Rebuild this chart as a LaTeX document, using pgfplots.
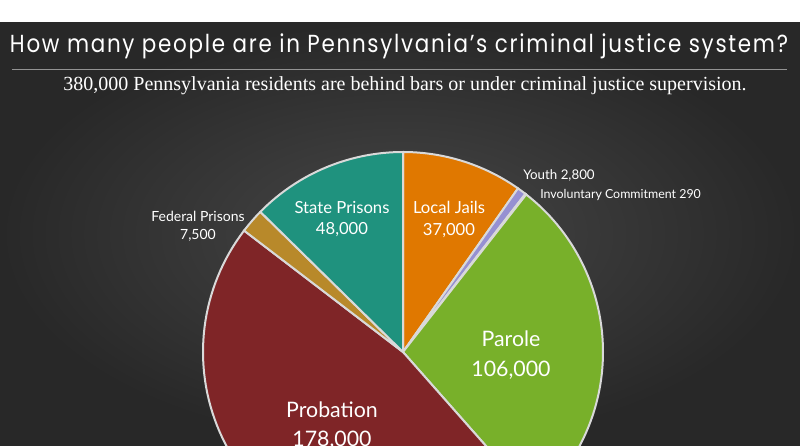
\documentclass[border=0pt]{standalone}
\usepackage{pgfplots}
\pgfplotsset{compat=1.18}
\usepackage{fontspec}
\setmainfont{Liberation Serif}
\newfontfamily\titlefont[LetterSpace=8]{Poppins}
\newfontfamily\labelfont{Lato}
\definecolor{bgin}{HTML}{474747}
\definecolor{bgout}{HTML}{282828}
\definecolor{pieedge}{HTML}{D9D9D9}
\definecolor{cLJ}{HTML}{E07800}
\definecolor{cYO}{HTML}{9690D2}
\definecolor{cIC}{HTML}{E8E8E8}
\definecolor{cPA}{HTML}{78B02A}
\definecolor{cPR}{HTML}{7F2527}
\definecolor{cFE}{HTML}{B8892A}
\definecolor{cST}{HTML}{1F927E}
% values in thousands
\def\vLJ{37}
\def\vYO{2.8}
\def\vIC{0.29}
\def\vPA{106}
\def\vPR{178}
\def\vFE{7.5}
\def\vST{48}
\newcommand\slice[3]{%
  \addplot[fill=#3, draw=pieedge, line width=1.5pt, domain=#2:#1, samples=90, variable=\t]
    ({cos(\t)},{sin(\t)}) -- (axis cs:0,0) -- cycle;
}
\begin{document}
\begin{tikzpicture}[x=0.75pt,y=-0.75pt]
\path[use as bounding box] (0,0) rectangle (800,446);
\clip (0,0) rectangle (800,446);
\shade[inner color=bgin, outer color=bgout] (0,22) rectangle (800,446);
\fill[white] (0,0) rectangle (800,22);
\draw[color=gray!85, line width=0.75pt] (12,69) -- (787,69);
\node[anchor=base, text=white, inner sep=0pt] at (399,53)
  {\resizebox{583.5pt}{\height}{\titlefont\fontsize{18.5pt}{20pt}\selectfont How many people are in Pennsylvania’s criminal justice system?}};
\node[anchor=base, text=white, inner sep=0pt, font=\fontsize{15pt}{17pt}\selectfont] at (405,90)
  {380,000 Pennsylvania residents are behind bars or under criminal justice supervision.};
\coordinate (C) at (403,352);
\pgfmathsetmacro\tot{\vLJ+\vYO+\vIC+\vPA+\vPR+\vFE+\vST}
\pgfmathsetmacro\aA{90}
\pgfmathsetmacro\aB{\aA-\vLJ/\tot*360}
\pgfmathsetmacro\aC{\aB-\vYO/\tot*360}
\pgfmathsetmacro\aD{\aC-\vIC/\tot*360}
\pgfmathsetmacro\aE{\aD-\vPA/\tot*360}
\pgfmathsetmacro\aF{\aE-\vPR/\tot*360}
\pgfmathsetmacro\aG{\aF-\vFE/\tot*360}
\pgfmathsetmacro\aH{-270}
\begin{axis}[at={(C)}, anchor=center, scale only axis, width=300pt, height=300pt,
  xmin=-1, xmax=1, ymin=-1, ymax=1, hide axis, clip=false]
\slice{\aA}{\aB}{cLJ}
\slice{\aB}{\aC}{cYO}
\slice{\aC}{\aD}{cIC}
\slice{\aD}{\aE}{cPA}
\slice{\aE}{\aF}{cPR}
\slice{\aF}{\aG}{cFE}
\slice{\aG}{\aH}{cST}
\end{axis}
\begin{scope}[every node/.style={text=white, inner sep=0pt}]
\node[anchor=base, font=\labelfont\fontsize{12.5pt}{14pt}\selectfont] at (449,213) {Local Jails};
\node[anchor=base, font=\labelfont\fontsize{12.5pt}{14pt}\selectfont] at (449,235) {37,000};
\node[anchor=base, font=\labelfont\fontsize{12.5pt}{14pt}\selectfont] at (342,213) {State Prisons};
\node[anchor=base, font=\labelfont\fontsize{12.5pt}{14pt}\selectfont] at (342,234) {48,000};
\node[anchor=base, font=\labelfont\fontsize{16pt}{18pt}\selectfont] at (511,346) {Parole};
\node[anchor=base, font=\labelfont\fontsize{16pt}{18pt}\selectfont] at (511,376) {106,000};
\node[anchor=base, font=\labelfont\fontsize{16pt}{18pt}\selectfont] at (332,417) {Probation};
\node[anchor=base, font=\labelfont\fontsize{16pt}{18pt}\selectfont] at (332,446) {178,000};
\node[anchor=base, font=\labelfont\fontsize{10.5pt}{12pt}\selectfont] at (198,221) {Federal Prisons};
\node[anchor=base, font=\labelfont\fontsize{10.5pt}{12pt}\selectfont] at (198,239) {7,500};
\node[anchor=base west, font=\labelfont\fontsize{10pt}{11pt}\selectfont] at (523,179) {Youth 2,800};
\node[anchor=base west, font=\labelfont\fontsize{9.3pt}{11pt}\selectfont] at (540,198) {Involuntary Commitment 290};
\end{scope}
\end{tikzpicture}
\end{document}
